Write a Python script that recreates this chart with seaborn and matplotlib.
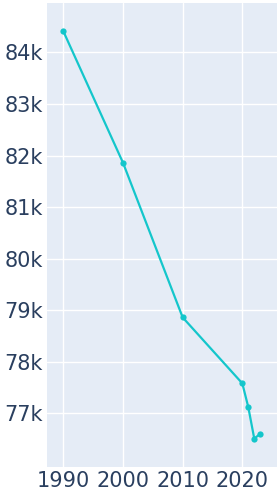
import matplotlib
matplotlib.use("Agg")
import matplotlib.pyplot as plt
import seaborn as sns
import pandas as pd
from matplotlib.ticker import FuncFormatter, FixedLocator

years = [1990, 2000, 2010, 2020, 2021, 2022, 2023]
population = [84410, 81860, 78860, 77580, 77120, 76510, 76600]
x_ticks = [1990, 2000, 2010, 2020]
y_ticks = [77000, 78000, 79000, 80000, 81000, 82000, 83000, 84000]

df = pd.DataFrame({"year": years, "population": population})

sns.set_theme(style="darkgrid")
plt.rcParams["font.family"] = ["DejaVu Sans"]

fig = plt.figure(figsize=(2.8, 5.0), dpi=100)
ax = fig.add_axes([0.168, 0.0667, 0.821, 0.927])
ax.set_facecolor("#E5ECF6")

sns.lineplot(data=df, x="year", y="population", ax=ax, color="#14C6CB",
             linewidth=1.6, marker="o", markersize=4.5, markeredgewidth=0)

ax.set_xlim(1987.27, 2025.8)
ax.set_ylim(75965, 84955)
ax.xaxis.set_major_locator(FixedLocator(x_ticks))
ax.yaxis.set_major_locator(FixedLocator(y_ticks))
ax.yaxis.set_major_formatter(FuncFormatter(lambda v, p: f"{int(round(v/1000))}k"))
ax.grid(True, color="white", linewidth=1.0)
for s in ax.spines.values():
    s.set_visible(False)
ax.tick_params(axis="both", labelsize=15, colors="#2a3f5f", length=0, pad=3)
ax.set_xlabel("")
ax.set_ylabel("")

fig.savefig("out.png", dpi=100, facecolor="white")
